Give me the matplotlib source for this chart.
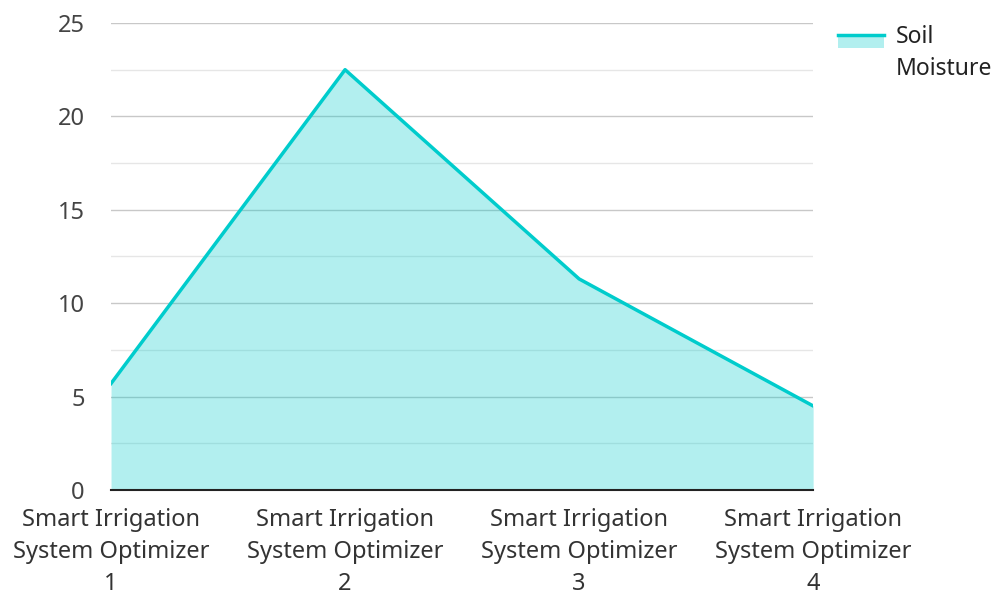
import matplotlib.pyplot as plt
from matplotlib.patches import Rectangle
from matplotlib.lines import Line2D
from matplotlib.legend_handler import HandlerBase

plt.rcParams['font.family'] = ['Noto Sans', 'DejaVu Sans']

categories = ["Smart Irrigation\nSystem Optimizer\n1", "Smart Irrigation\nSystem Optimizer\n2",
              "Smart Irrigation\nSystem Optimizer\n3", "Smart Irrigation\nSystem Optimizer\n4"]
soil_moisture = [5.7, 22.5, 11.3, 4.5]
y_ticks = [0, 5, 10, 15, 20, 25]
series_name = "Soil\nMoisture"

color = "#00cccc"
fs = 17


class AreaHandler(HandlerBase):
    # line on top edge, light fill underneath (like the reference legend key)
    def create_artists(self, legend, orig_handle, xdescent, ydescent, width, height, fontsize, trans):
        top = height + 0.45 * fontsize
        h = height * 0.75
        rect = Rectangle((-xdescent, top - h), width, h,
                         facecolor=color, alpha=0.3, edgecolor='none', transform=trans)
        line = Line2D([-xdescent, -xdescent + width], [top, top], color=color, linewidth=2.5, transform=trans)
        return [rect, line]


fig = plt.figure(figsize=(10.03, 5.94), dpi=100)
ax = fig.add_axes([0.1107, 0.1751, 0.7, 0.7862])

x = list(range(len(categories)))
ax.set_axisbelow(True)
ax.fill_between(x, soil_moisture, 0, color=color, alpha=0.3, linewidth=0, zorder=2)
ax.plot(x, soil_moisture, color=color, linewidth=2.5, zorder=3)

ax.set_xlim(0, 3)
ax.set_ylim(0, 25)
ax.set_yticks(y_ticks)
ax.set_yticks([2.5, 7.5, 12.5, 17.5, 22.5], minor=True)
ax.set_xticks(x)
ax.set_xticklabels(categories, fontsize=fs, color="#333333", linespacing=1.43)
ax.tick_params(axis='y', labelsize=fs, labelcolor="#444444", length=0, pad=19, which='both')
ax.tick_params(axis='x', length=0, pad=13)
ax.grid(axis='y', which='major', color="#c8c8c8", linewidth=1)
ax.grid(axis='y', which='minor', color="#e6e6e6", linewidth=1)
for s in ['top', 'right', 'left']:
    ax.spines[s].set_visible(False)
ax.spines['bottom'].set_color("#222222")
ax.spines['bottom'].set_linewidth(1.5)
ax.spines['bottom'].set_zorder(4)

leg = fig.legend(["key"], [series_name], handler_map={str: AreaHandler()}, loc='upper left',
                 bbox_to_anchor=(0.815, 0.993), frameon=False, fontsize=16.5, handlelength=2.0,
                 handletextpad=0.5, labelspacing=0.2)
for t in leg.get_texts():
    t.set_linespacing(1.45)
    t.set_color("#222222")

fig.savefig("out.png", dpi=100)
